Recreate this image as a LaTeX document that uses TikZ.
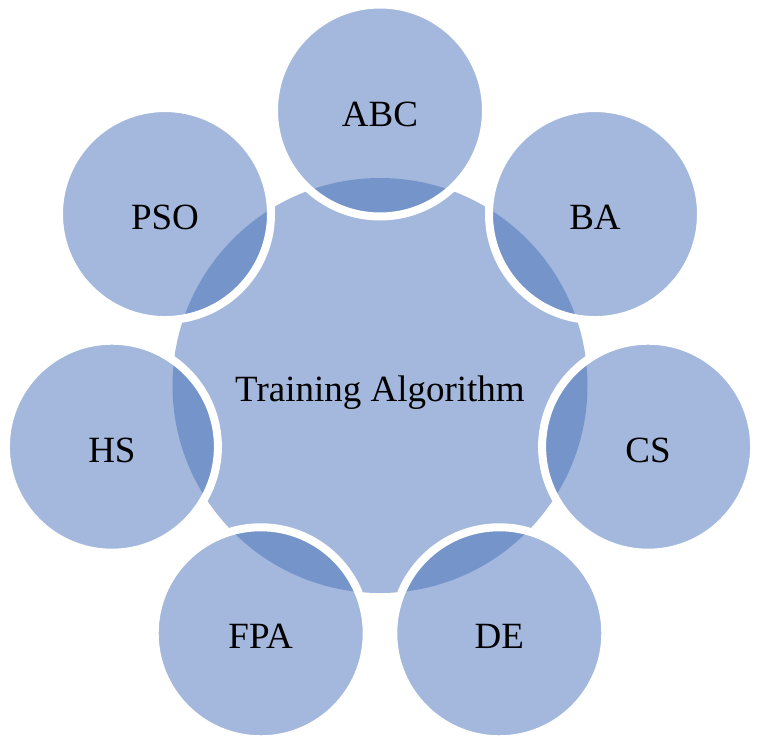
\documentclass[tikz,border=0pt]{standalone}
\usepackage{fontspec}
\setmainfont{Liberation Serif}
\usepackage{tikz}
\definecolor{algoblue}{RGB}{71,113,185}
\tikzset{
	hub/.style={circle, inner sep=0pt, minimum size=415pt, fill=algoblue, fill opacity=0.5, text opacity=1, text height=31pt, text depth=0pt, font=\fontsize{37}{44}\selectfont},
	algo/.style={circle, inner sep=0pt, minimum size=212pt, fill=algoblue, fill opacity=0.5, draw=white, draw opacity=1, line width=8pt, text opacity=1, text height=31pt, text depth=0pt, font=\fontsize{37}{44}\selectfont}
}

\begin{document}
\begin{tikzpicture}[x=1pt, y=1pt]
		%%%%% START %%%%%
		
		\useasboundingbox (-380, -359.5) rectangle (379, 385.5);
		
		\node[hub] (train) at (0, 0) {Training Algorithm};
		
		\node[algo] (abc) at (90:275) {ABC};
		\node[algo] (ba) at (38.57:275) {BA};
		\node[algo] (cs) at (-12.86:275) {CS};
		\node[algo] (de) at (-64.29:275) {DE};
		\node[algo] (fpa) at (-115.71:275) {FPA};
		\node[algo] (hs) at (-167.14:275) {HS};
		\node[algo] (pso) at (141.43:275) {PSO};
		
		%%%%% END %%%%%
	\end{tikzpicture}
\end{document}
